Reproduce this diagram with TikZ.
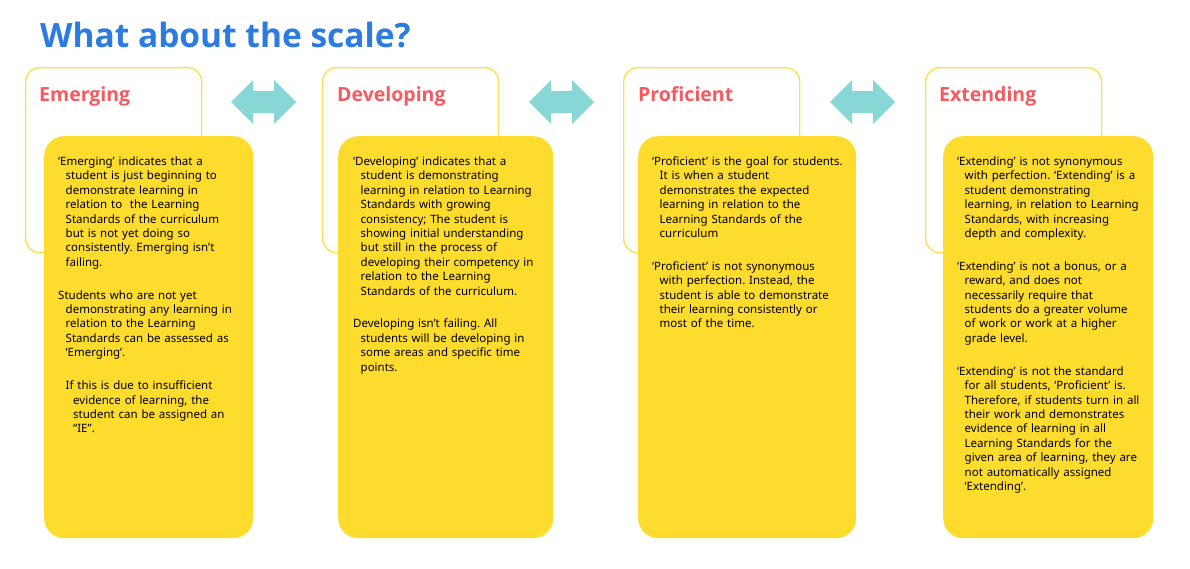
\documentclass[tikz,border=0pt]{standalone}
\usepackage{fontspec}
\setmainfont{Noto Sans}
\newfontfamily\headfont{Open Sans}
\definecolor{titleblue}{HTML}{2C7BE0}
\definecolor{headred}{HTML}{F65A5F}
\definecolor{boxyellow}{HTML}{FDDC2E}
\definecolor{lineyellow}{HTML}{FDDF55}
\definecolor{arrowteal}{HTML}{88D7D7}
\frenchspacing
\newcommand\hpara[2][0pt]{\par\leftskip=#1\hangindent=7.5pt\hangafter=1 #2\par}
\newcommand\pgap{\par\vspace{18.5pt}}
\tikzset{
  outbox/.style={draw=lineyellow, line width=1.4pt, fill=white, rounded corners=14pt,
    anchor=north west, minimum width=176pt, minimum height=185pt, inner sep=0pt},
  fillbox/.style={fill=boxyellow, rounded corners=20pt, anchor=north west,
    minimum height=402pt, inner sep=0pt},
  heading/.style={anchor=base west, inner sep=0pt, text=headred,
    font=\headfont\fontsize{19.5}{24}\selectfont\bfseries},
  bodytext/.style={anchor=base west, inner sep=0pt, text width=240pt, align=left,
    font=\fontsize{11.5}{14.4}\selectfont, text=black},
  dblarrow/.style={fill=arrowteal, draw=none}
}
\begin{document}
\begin{tikzpicture}[x=1pt,y=-1pt]
\useasboundingbox (0,0) rectangle (1190,568);
\fill[white] (0,0) rectangle (1190,568);

\node[anchor=base west, inner sep=0pt, text=titleblue,
  font=\headfont\fontsize{33.5}{40}\selectfont\bfseries] (title) at (40,47) {What about the scale?};

% outline boxes
\node[outbox] (o1) at (25,67) {};
\node[outbox] (o2) at (322,67) {};
\node[outbox] (o3) at (623,67) {};
\node[outbox] (o4) at (925,67) {};

% headings
\node[heading] (h1) at (39,101) {Emerging};
\node[heading] (h2) at (337,101) {Developing};
\node[heading] (h3) at (638,101) {Proficient};
\node[heading] (h4) at (939,101) {Extending};

% filled boxes
\node[fillbox, minimum width=209pt] (f1) at (44,136) {};
\node[fillbox, minimum width=215pt] (f2) at (338,136) {};
\node[fillbox, minimum width=218pt] (f3) at (638,136) {};
\node[fillbox, minimum width=210pt] (f4) at (943,136) {};

% double arrows
\foreach \x [count=\i] in {231,529,830}{
  \fill[dblarrow] (\x,102) -- (\x+22,80) -- (\x+22,91) -- (\x+43,91) -- (\x+43,80)
    -- (\x+65,102) -- (\x+43,124) -- (\x+43,113) -- (\x+22,113) -- (\x+22,124) -- cycle;
}

% texts
\node[bodytext] (t1) at (58,151) {%
\hpara{‘Emerging’ indicates that a\newline student is just beginning to\newline demonstrate learning in\newline relation to \ the Learning\newline Standards of the curriculum\newline but is not yet doing so\newline consistently. Emerging isn’t\newline failing.}\pgap
\hpara{Students who are not yet\newline demonstrating any learning in\newline relation to the Learning\newline Standards can be assessed as\newline ‘Emerging’.}\pgap
\hpara[7.5pt]{If this is due to insufficient\newline evidence of learning, the\newline student can be assigned an\newline “IE”.}};

\node[bodytext] (t2) at (353,151) {%
\hpara{‘Developing’ indicates that a\newline student is demonstrating\newline learning in relation to Learning\newline Standards with growing\newline consistency; The student is\newline showing initial understanding\newline but still in the process of\newline developing their competency in\newline relation to the Learning\newline Standards of the curriculum.}\pgap
\hpara{Developing isn’t failing. All\newline students will be developing in\newline some areas and specific time\newline points.}};

\node[bodytext] (t3) at (652,151) {%
\hpara{‘Proficient’ is the goal for students.\newline It is when a student\newline demonstrates the expected\newline learning in relation to the\newline Learning Standards of the\newline curriculum}\pgap
\hpara{‘Proficient’ is not synonymous\newline with perfection. Instead, the\newline student is able to demonstrate\newline their learning consistently or\newline most of the time.}};

\node[bodytext] (t4) at (957,151) {%
\hpara{‘Extending’ is not synonymous\newline with perfection. ‘Extending’ is a\newline student demonstrating\newline learning, in relation to Learning\newline Standards, with increasing\newline depth and complexity.}\pgap
\hpara{‘Extending’ is not a bonus, or a\newline reward, and does not\newline necessarily require that\newline students do a greater volume\newline of work or work at a higher\newline grade level.}\pgap
\hpara{‘Extending’ is not the standard\newline for all students, ‘Proficient’ is.\newline Therefore, if students turn in all\newline their work and demonstrates\newline evidence of learning in all\newline Learning Standards for the\newline given area of learning, they are\newline not automatically assigned\newline ‘Extending’.}};
\end{tikzpicture}
\end{document}
